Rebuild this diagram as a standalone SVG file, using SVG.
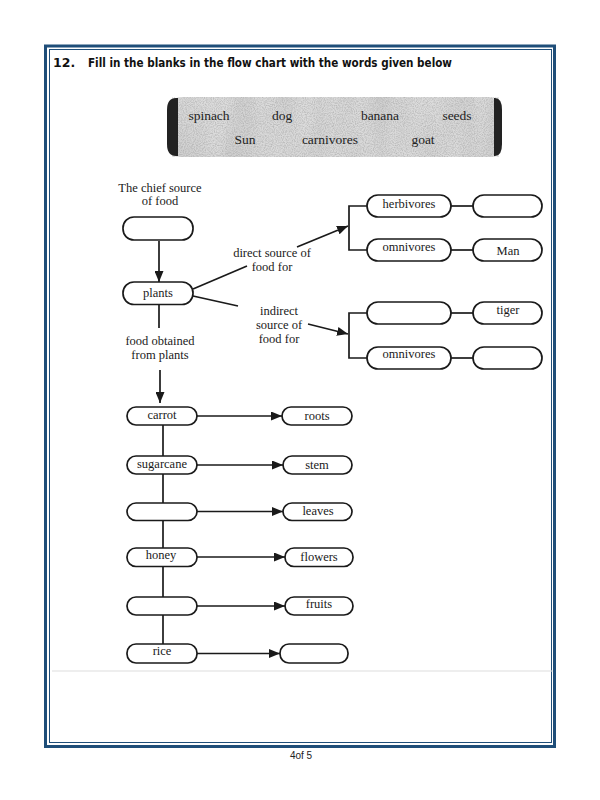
<svg xmlns="http://www.w3.org/2000/svg" width="600" height="800" viewBox="0 0 600 800">
<style>
.node{fill:#fff;stroke:#1a1a1a;stroke-width:1.7}
.t{font-family:"Liberation Serif",serif;font-size:12.5px;fill:#1a1a1a;text-anchor:middle}
.w{font-family:"Liberation Serif",serif;font-size:13.5px;fill:#222;text-anchor:middle}
.c{fill:none;stroke:#1a1a1a;stroke-width:1.7}
.ca{fill:none;stroke:#1a1a1a;stroke-width:1.7;marker-end:url(#ah)}
</style>
<defs>
<marker id="ah" markerUnits="userSpaceOnUse" markerWidth="12" markerHeight="9" refX="11" refY="4.5" orient="auto">
<path d="M0,0 L11,4.5 L0,9 z" fill="#1a1a1a"/>
</marker>
<filter id="grain" x="0" y="0" width="100%" height="100%">
<feTurbulence type="fractalNoise" baseFrequency="0.9" numOctaves="2" seed="3" result="n"/>
<feColorMatrix in="n" type="matrix" values="0 0 0 0 0.3  0 0 0 0 0.3  0 0 0 0 0.3  0 0 0 1.4 -0.5"/>
</filter>
<filter id="mottle" x="0" y="0" width="100%" height="100%">
<feTurbulence type="fractalNoise" baseFrequency="0.035 0.008" numOctaves="2" seed="7" result="m"/>
<feColorMatrix in="m" type="matrix" values="0 0 0 0 0.4  0 0 0 0 0.4  0 0 0 0 0.4  0 0 0 1.2 -0.45"/>
</filter>
</defs>
<rect width="600" height="800" fill="#fff"/>
<g id="frame">
<rect x="45.5" y="46" width="509" height="700.5" fill="none" stroke="#1f4e79" stroke-width="3"/>
<rect x="49.5" y="49.5" width="502" height="693" fill="none" stroke="#1f4e79" stroke-width="1"/>
<line x1="52" y1="671" x2="553" y2="671" stroke="#dddddd" stroke-width="1"/>
<text x="301" y="759" font-family="Liberation Sans, sans-serif" font-size="10" fill="#222" text-anchor="middle">4of 5</text>
</g>
<g id="title" font-family="DejaVu Sans, sans-serif" font-weight="bold" font-size="12.5" fill="#111">
<text x="53" y="67">12.</text>
<text x="88" y="67" textLength="364" lengthAdjust="spacingAndGlyphs">Fill in the blanks in the flow chart with the words given below</text>
</g>
<g id="wordbox">
<rect x="172" y="97" width="327" height="60" rx="10" fill="#dcdcdc"/>
<rect x="172" y="97" width="327" height="60" rx="10" fill="#000" filter="url(#mottle)" opacity="0.5"/>
<rect x="172" y="97" width="327" height="60" rx="10" fill="#000" filter="url(#grain)" opacity="0.7"/>
<path d="M178,98 L176,98 Q167,98 167,110 L167,144 Q167,156 176,156 L178,156 Z" fill="#222"/>
<path d="M494,98 L494,156 L495,156 Q502,156 502,144 L502,110 Q502,98 495,98 Z" fill="#222"/>
<text class="w" x="209" y="120">spinach</text>
<text class="w" x="282" y="120">dog</text>
<text class="w" x="380" y="120">banana</text>
<text class="w" x="457" y="120">seeds</text>
<text class="w" x="245" y="144">Sun</text>
<text class="w" x="330" y="144">carnivores</text>
<text class="w" x="423" y="144">goat</text>
</g>
<g id="connectors">
<line class="ca" x1="159" y1="241" x2="159" y2="282"/>
<line class="c" x1="159" y1="305" x2="159" y2="328"/>
<line class="ca" x1="160" y1="370" x2="160" y2="403"/>
<line class="c" x1="193" y1="289" x2="247" y2="266"/>
<line class="ca" x1="297" y1="247" x2="348" y2="226"/>
<line class="c" x1="193" y1="296" x2="238" y2="306"/>
<line class="ca" x1="308" y1="324" x2="348" y2="334"/>
<path class="c" d="M367,206 H349 V250 H367"/>
<path class="c" d="M367,313 H349 V358 H367"/>
<line class="c" x1="451" y1="206" x2="473" y2="206"/>
<line class="c" x1="451" y1="250" x2="473" y2="250"/>
<line class="c" x1="451" y1="313" x2="473" y2="313"/>
<line class="c" x1="451" y1="358" x2="473" y2="358"/>
<line class="c" x1="163" y1="425" x2="163" y2="644"/>
<line class="ca" x1="197" y1="416" x2="282" y2="416"/>
<line class="ca" x1="197" y1="465" x2="283" y2="465"/>
<line class="ca" x1="197" y1="511.5" x2="283" y2="511.5"/>
<line class="ca" x1="197" y1="557" x2="285" y2="557"/>
<line class="ca" x1="197" y1="606" x2="285" y2="606"/>
<line class="ca" x1="197" y1="653.5" x2="280" y2="653.5"/>
</g>
<g id="labels">
<text class="t" x="160" y="192">The chief source</text>
<text class="t" x="160" y="205">of food</text>
<text class="t" x="272" y="257">direct source of</text>
<text class="t" x="272" y="271">food for</text>
<text class="t" x="279" y="315">indirect</text>
<text class="t" x="279" y="329">source of</text>
<text class="t" x="279" y="343">food for</text>
<text class="t" x="160" y="345">food obtained</text>
<text class="t" x="160" y="359">from plants</text>
</g>
<g id="n-sun"><rect class="node" x="123" y="217" width="70" height="23" rx="11"/></g>
<g id="n-plants"><rect class="node" x="123" y="282" width="70" height="22.5" rx="11"/><text class="t" x="158" y="297">plants</text></g>
<g id="n-herbivores"><rect class="node" x="367" y="195" width="84" height="22" rx="11"/><text class="t" x="409" y="208">herbivores</text></g>
<g id="n-blank1"><rect class="node" x="473" y="195" width="69" height="22" rx="11"/></g>
<g id="n-omnivores1"><rect class="node" x="367" y="239" width="84" height="22" rx="11"/><text class="t" x="409" y="251">omnivores</text></g>
<g id="n-man"><rect class="node" x="473" y="239" width="69" height="22" rx="11"/><text class="t" x="508" y="255">Man</text></g>
<g id="n-blank2"><rect class="node" x="367" y="302" width="84" height="22" rx="11"/></g>
<g id="n-tiger"><rect class="node" x="473" y="302" width="69" height="22" rx="11"/><text class="t" x="508" y="314">tiger</text></g>
<g id="n-omnivores2"><rect class="node" x="367" y="347" width="84" height="22" rx="11"/><text class="t" x="409" y="358">omnivores</text></g>
<g id="n-blank3"><rect class="node" x="473" y="347" width="69" height="22" rx="11"/></g>
<g id="n-carrot"><rect class="node" x="127" y="407" width="70" height="18" rx="9"/><text class="t" x="162" y="419">carrot</text></g>
<g id="n-roots"><rect class="node" x="282" y="407" width="70" height="18" rx="9"/><text class="t" x="317" y="420">roots</text></g>
<g id="n-sugarcane"><rect class="node" x="127" y="456" width="70" height="18" rx="9"/><text class="t" x="162" y="468">sugarcane</text></g>
<g id="n-stem"><rect class="node" x="283" y="456" width="69" height="18" rx="9"/><text class="t" x="317" y="469">stem</text></g>
<g id="n-blank4"><rect class="node" x="127" y="503" width="70" height="17.5" rx="9"/></g>
<g id="n-leaves"><rect class="node" x="283" y="503" width="69" height="17.5" rx="9"/><text class="t" x="318" y="515">leaves</text></g>
<g id="n-honey"><rect class="node" x="127" y="548" width="70" height="18.5" rx="9"/><text class="t" x="161" y="559">honey</text></g>
<g id="n-flowers"><rect class="node" x="285" y="548" width="68" height="18.5" rx="9"/><text class="t" x="319" y="561">flowers</text></g>
<g id="n-blank5"><rect class="node" x="127" y="597" width="70" height="18" rx="9"/></g>
<g id="n-fruits"><rect class="node" x="285" y="597" width="68" height="18" rx="9"/><text class="t" x="319" y="608">fruits</text></g>
<g id="n-rice"><rect class="node" x="127" y="644" width="70" height="19" rx="9"/><text class="t" x="162" y="655">rice</text></g>
<g id="n-blank6"><rect class="node" x="280" y="644" width="68" height="19" rx="9"/></g>
</svg>
